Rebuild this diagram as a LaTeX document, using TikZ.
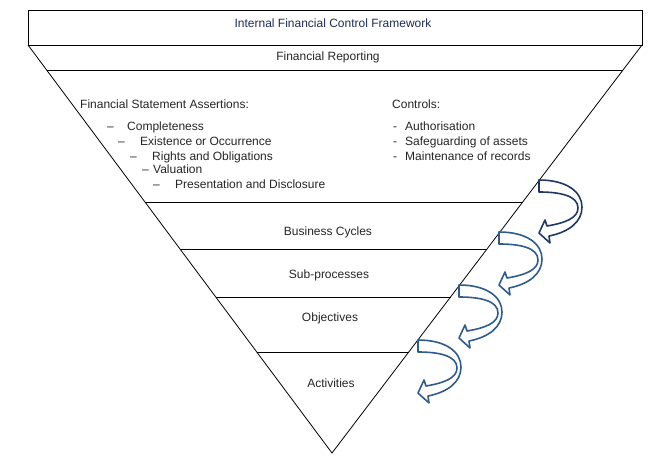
\documentclass[tikz,border=0pt]{standalone}
\usepackage{fontspec}
\setmainfont{Liberation Sans}
\definecolor{navy}{HTML}{1F3864}
\definecolor{steel}{HTML}{2E5C8C}
\definecolor{ink}{HTML}{262626}
\definecolor{titleblue}{HTML}{1F2D55}
\begin{document}
\begin{tikzpicture}[x=1pt,y=-1pt,font=\fontsize{12}{14}\selectfont,
    lbl/.style={inner sep=0pt,text=ink},
    item/.style={inner sep=0pt,text=ink,anchor=base west,yshift=-4.5pt},
    uturn/.pic={\draw[pic actions] (0,0) .. controls (28,0) and (43,12) .. (43,27)
        .. controls (43,42) and (30,52) .. (10,56) -- (11,63) -- (0,53) -- (6,40) -- (8,46)
        .. controls (26,43) and (39,38) .. (39,28) .. controls (39,16) and (22,12) .. (0,12) -- cycle;}]
    \useasboundingbox[fill=white] (0,0) rectangle (648,463);
    % frame and funnel
    \draw[line width=0.8pt] (28,10) rectangle (642,45);
    \draw[line width=0.8pt] (28,45) -- (332,453) -- (642,45);
    \foreach \y in {70,202,249,297,352}
        \draw[line width=0.8pt] ({28+0.7475*(\y-45)},\y) -- ({642-0.7598*(\y-45)},\y);
    % band labels
    \node[lbl,text=titleblue] (icf) at (333,23) {Internal Financial Control Framework};
    \node[lbl] (fr) at (328,57) {Financial Reporting};
    \node[lbl] (bc) at (328,232) {Business Cycles};
    \node[lbl] (sp) at (329,275) {Sub-processes};
    \node[lbl] (obj) at (330,318) {Objectives};
    \node[lbl] (act) at (331,383) {Activities};
    % assertions and controls
    \node[item] (fsa) at (80,104) {Financial Statement Assertions:};
    \foreach \dx/\tx/\ty/\txt [count=\i] in {107/127/126/Completeness,118/140/141/Existence or Occurrence,
        130/152/156/Rights and Obligations,142/153/169/Valuation,153/175/184/Presentation and Disclosure}{
        \node[item] (fsadash\i) at (\dx,\ty) {--};
        \node[item] (fsa\i) at (\tx,\ty) {\txt};
    }
    \node[item] (ctl) at (392,104) {Controls:};
    \foreach \ty/\txt [count=\i] in {126/Authorisation,141/Safeguarding of assets,156/Maintenance of records}{
        \node[item] (ctldash\i) at (393,\ty) {-};
        \node[item] (ctl\i) at (405,\ty) {\txt};
    }
    % turning arrows
    \pic[draw=navy,fill=white,line width=1.6pt,line join=round] (turn1) at (539,180) {uturn};
    \foreach \px/\py [count=\i from 2] in {499/232,459/285,418/340}
        \pic[draw=steel,fill=white,line width=1.6pt,line join=round] (turn\i) at (\px,\py) {uturn};
\end{tikzpicture}
\end{document}
